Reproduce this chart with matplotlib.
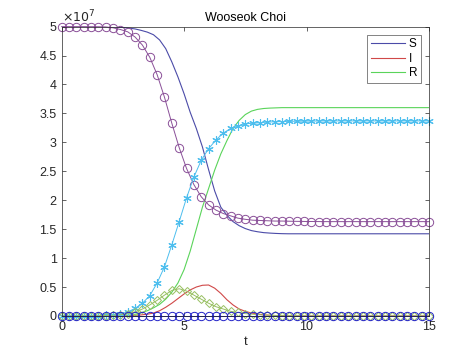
import numpy as np
import matplotlib
matplotlib.use("Agg")
import matplotlib.pyplot as plt
from matplotlib.ticker import FuncFormatter

# ---- data (values in units of 1e7) ----
t_line = np.arange(0, 15.001, 0.25)
S_line = [5.0, 5.0, 5.0, 5.0, 5.0, 5.0, 5.0, 5.0, 4.998, 4.993, 4.985, 4.975, 4.96, 4.935, 4.905, 4.86,
          4.77, 4.62, 4.39, 4.13, 3.84, 3.52, 3.24, 2.92, 2.53, 2.16, 1.88, 1.74, 1.63, 1.56, 1.51, 1.475,
          1.455, 1.44, 1.432, 1.426, 1.422, 1.42, 1.42, 1.42, 1.42, 1.42, 1.42, 1.42, 1.42, 1.42, 1.42, 1.42,
          1.42, 1.42, 1.42, 1.42, 1.42, 1.42, 1.42, 1.42, 1.42, 1.42, 1.42, 1.42, 1.42]
I_line = [0, 0, 0, 0, 0, 0, 0, 0, 0, 0, 0.002, 0.005, 0.01, 0.018, 0.03, 0.05,
          0.09, 0.15, 0.22, 0.30, 0.38, 0.45, 0.50, 0.53, 0.535, 0.48, 0.39, 0.28, 0.19, 0.12, 0.08, 0.05,
          0.033, 0.02, 0.012, 0.007, 0.004, 0.002, 0.001, 0, 0, 0, 0, 0, 0, 0, 0, 0,
          0, 0, 0, 0, 0, 0, 0, 0, 0, 0, 0, 0, 0]
R_line = [0, 0, 0, 0, 0, 0, 0, 0, 0, 0.003, 0.008, 0.015, 0.03, 0.055, 0.09, 0.14,
          0.2, 0.29, 0.41, 0.57, 0.80, 1.12, 1.50, 1.88, 2.2, 2.52, 2.8, 3.03, 3.24, 3.38, 3.48, 3.54,
          3.57, 3.585, 3.592, 3.596, 3.6, 3.6, 3.6, 3.6, 3.6, 3.6, 3.6, 3.6, 3.6, 3.6, 3.6, 3.6,
          3.6, 3.6, 3.6, 3.6, 3.6, 3.6, 3.6, 3.6, 3.6, 3.6, 3.6, 3.6, 3.6]

t_mark = np.round(np.arange(0, 15.001, 0.3), 2)
S_mark = [5.0, 5.0, 5.0, 5.0, 4.999, 4.998, 4.995, 4.98, 4.95, 4.91, 4.82, 4.68, 4.47, 4.17, 3.78, 3.33, 2.91,
          2.55, 2.27, 2.06, 1.92, 1.83, 1.77, 1.73, 1.69, 1.67, 1.655, 1.65, 1.645, 1.64, 1.64, 1.637, 1.635,
          1.633, 1.632, 1.631, 1.63, 1.63, 1.63, 1.63, 1.63, 1.63, 1.63, 1.63, 1.63, 1.63, 1.63, 1.63, 1.63,
          1.63, 1.63]
I_mark = [0, 0, 0, 0.001, 0.002, 0.004, 0.007, 0.012, 0.02, 0.04, 0.07, 0.12, 0.19, 0.27, 0.36, 0.44, 0.47,
          0.43, 0.36, 0.29, 0.22, 0.16, 0.12, 0.08, 0.06, 0.04, 0.03, 0.02, 0.012, 0.008, 0.005, 0.003, 0.002,
          0.001, 0, 0, 0, 0, 0, 0, 0, 0, 0, 0, 0, 0, 0, 0, 0, 0, 0]
R_mark = [0, 0, 0, 0, 0.002, 0.005, 0.01, 0.02, 0.035, 0.07, 0.13, 0.22, 0.35, 0.57, 0.85, 1.23, 1.63,
          2.04, 2.40, 2.69, 2.89, 3.04, 3.16, 3.24, 3.28, 3.32, 3.33, 3.34, 3.35, 3.355, 3.36, 3.363, 3.365,
          3.367, 3.368, 3.369, 3.37, 3.37, 3.37, 3.37, 3.37, 3.37, 3.37, 3.37, 3.37, 3.37, 3.37, 3.37, 3.37,
          3.37, 3.37]
Z_mark = [0] * 51

scale = 1e7
plt.rcParams['font.family'] = ['Liberation Sans', 'DejaVu Sans']

fig = plt.figure(figsize=(4.74, 3.55), dpi=100)
ax = fig.add_axes([0.13, 0.11, 0.775, 0.815])

ax.plot(t_line, np.array(S_line) * scale, color='#4b4ba8', lw=0.8, label='S')
ax.plot(t_line, np.array(I_line) * scale, color='#d04848', lw=0.8, label='I')
ax.plot(t_line, np.array(R_line) * scale, color='#5ad45a', lw=0.8, label='R')

ax.plot(t_mark, np.array(S_mark) * scale, color='#8a4f98', lw=0.7, marker='o', ms=6,
        mfc='none', mew=0.7, clip_on=False)
ax.plot(t_mark, np.array(R_mark) * scale, color='#4dbeee', lw=0.7, marker=(6, 2, 0), ms=6,
        mfc='none', mew=0.8, clip_on=False)
ax.plot(t_mark, np.array(I_mark) * scale, color='#98c062', lw=0.7, marker='D', ms=4.5,
        mfc='none', mew=0.7, clip_on=False)
ax.plot(t_mark, np.array(Z_mark) * scale, color='#2222c8', lw=0.7, marker='o', ms=6,
        mfc='none', mew=0.7, clip_on=False)

ax.set_xlim(0, 15)
ax.set_ylim(0, 5e7)
ax.set_xticks([0, 5, 10, 15])
ax.set_yticks(np.arange(0, 5.01e7, 0.5e7))
ax.yaxis.set_major_formatter(FuncFormatter(lambda v, p: '%g' % round(v / scale, 2)))
ax.text(0.0, 1.003, r'$\times10^{7}$', transform=ax.transAxes, fontsize=9,
        color='#262626', ha='left', va='bottom')

ax.tick_params(direction='in', top=True, right=True, labelsize=9, colors='#262626',
               length=3, width=0.5)
for sp in ax.spines.values():
    sp.set_color('#262626')
    sp.set_linewidth(0.5)

ax.set_title('Wooseok Choi', fontsize=9, color='#000000', pad=4)
ax.set_xlabel('t', fontsize=9.5, color='#262626', labelpad=2)

leg = ax.legend(loc='upper right', fontsize=8.5, frameon=True, fancybox=False,
                edgecolor='#262626', handlelength=2.9, borderpad=0.3, labelspacing=0.2,
                handletextpad=0.3, borderaxespad=0.7)
leg.get_frame().set_linewidth(0.5)

fig.savefig('out.png', dpi=100)
